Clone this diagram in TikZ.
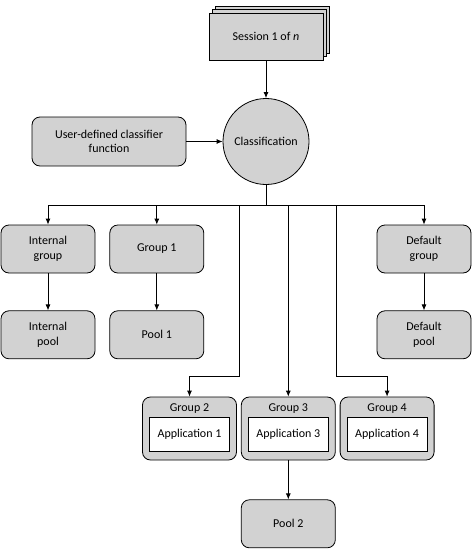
\documentclass[tikz,border=0pt]{standalone}
\usepackage{fontspec}
\setmainfont{Carlito}
\usetikzlibrary{arrows.meta}
\usetikzlibrary{positioning}
\tikzset{
  session/.style={rectangle, draw, fill=gray!35, minimum width=114pt, minimum height=47pt},
  classify/.style={circle, draw, fill=gray!35, minimum size=86pt, inner sep=0pt},
  block/.style={rectangle, draw, fill=gray!35, rounded corners=8pt, minimum width=94pt, minimum height=48pt, align=center, inner sep=2pt},
  groupbox/.style={block, minimum height=63pt},
  app/.style={rectangle, draw, fill=white, minimum width=80pt, minimum height=34pt},
  arrow/.style={draw, -{Latex[length=6pt, width=5pt]}}
  }

\begin{document}
\begin{tikzpicture}[x=1pt, y=-1pt, line width=0.8pt, font=\fontsize{12}{14.5}\selectfont]
	\useasboundingbox (0,0) rectangle (472,549);

	% Nodes
	\node[session] (sess3) at (272.6,29.9) {};
	\node[session] (sess2) at (269.3,33.2) {};
	\node[session] (session) at (266,36.5) {Session 1 of \textit{n}};
	\node[classify] (cls) at (266,141.5) {Classification};
	\node[block, minimum width=154pt, minimum height=49pt] (user) at (109,141.5) {User-defined classifier\\function};

	\node[block] (intgrp) at (48,249) {Internal\\group};
	\node[block, right = 14pt of intgrp] (grp1) {Group 1};
	\node[block] (defgrp) at (424,249) {Default\\group};
	\node[block, below = 37pt of intgrp] (intpool) {Internal\\pool};
	\node[block, below = 37pt of grp1] (pool1) {Pool 1};
	\node[block, below = 37pt of defgrp] (defpool) {Default\\pool};

	\node[groupbox] (grp2) at (189.5,428.5) {};
	\node[groupbox, right = 4pt of grp2] (grp3) {};
	\node[groupbox, right = 4pt of grp3] (grp4) {};
	\node (lbl2) at ([yshift=-12pt]grp2.north) {Group 2};
	\node (lbl3) at ([yshift=-12pt]grp3.north) {Group 3};
	\node (lbl4) at ([yshift=-12pt]grp4.north) {Group 4};
	\node[app] (app1) at ([yshift=-5.5pt]grp2.center) {Application 1};
	\node[app] (app3) at ([yshift=-5.5pt]grp3.center) {Application 3};
	\node[app] (app4) at ([yshift=-5.5pt]grp4.center) {Application 4};
	\node[block, below = 39pt of grp3] (pool2) {Pool 2};

	\coordinate (bus) at (266,205);
	\coordinate (turn2) at (239,376);
	\coordinate (turn4) at (336,376);

	% Arrows
	\draw [arrow] (session) -- (cls);
	\draw [arrow] (user) -- (cls);
	\draw (cls) -- (bus);
	\draw [arrow] (bus) -| (intgrp);
	\draw [arrow] (bus) -| (grp1);
	\draw [arrow] (bus) -| (defgrp);
	\draw [arrow] (bus) -| (turn2) -| (grp2);
	\draw [arrow] (bus -| grp3) -- (grp3);
	\draw [arrow] (bus) -| (turn4) -| (grp4);

	\draw [arrow] (intgrp) -- (intpool);
	\draw [arrow] (grp1) -- (pool1);
	\draw [arrow] (defgrp) -- (defpool);
	\draw [arrow] (grp3) -- (pool2);
\end{tikzpicture}
\end{document}
